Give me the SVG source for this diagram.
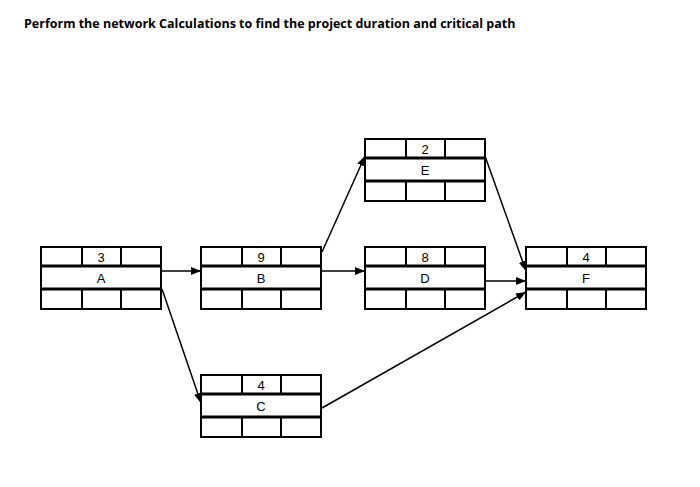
<svg xmlns="http://www.w3.org/2000/svg" width="700" height="487" viewBox="0 0 700 487">
<defs>
<marker id="ah" markerWidth="10" markerHeight="8" refX="10" refY="4" orient="auto" markerUnits="userSpaceOnUse"><path d="M0,0 L10,4 L0,8 z" fill="#000"/></marker>
<g id="box">
<rect x="0" y="0" width="120" height="62" fill="#fff" stroke="#000" stroke-width="2"/>
<line x1="0" y1="19" x2="120" y2="19" stroke="#000" stroke-width="3"/>
<line x1="0" y1="42" x2="120" y2="42" stroke="#000" stroke-width="3"/>
<line x1="41" y1="0" x2="41" y2="19" stroke="#000" stroke-width="2"/>
<line x1="80" y1="0" x2="80" y2="19" stroke="#000" stroke-width="2"/>
<line x1="41" y1="42" x2="41" y2="62" stroke="#000" stroke-width="2"/>
<line x1="80" y1="42" x2="80" y2="62" stroke="#000" stroke-width="2"/>
</g>
</defs>
<style>text{font-family:"Liberation Sans",Arial,sans-serif;font-size:13px;text-anchor:middle}.c{stroke:#000;stroke-width:1.5;fill:none;marker-end:url(#ah)}</style>
<rect width="700" height="487" fill="#fff"/>
<text x="24" y="28" style="text-anchor:start;font-family:'Open Sans','Noto Sans',sans-serif;font-weight:bold;font-size:12.5px">Perform the network Calculations to find the project duration and critical path</text>
<g id="A"><use href="#box" x="41" y="247"/><text x="101" y="262">3</text><text x="101" y="283">A</text></g>
<g id="B"><use href="#box" x="201" y="247"/><text x="261" y="262">9</text><text x="261" y="283">B</text></g>
<g id="C"><use href="#box" x="201" y="375"/><text x="261" y="390">4</text><text x="261" y="411">C</text></g>
<g id="D"><use href="#box" x="365" y="247"/><text x="425" y="262">8</text><text x="425" y="283">D</text></g>
<g id="E"><use href="#box" x="365" y="139"/><text x="425" y="154">2</text><text x="425" y="175">E</text></g>
<g id="F"><use href="#box" x="526" y="247"/><text x="586" y="262">4</text><text x="586" y="283">F</text></g>
<g id="connectors">
<line class="c" x1="161" y1="271" x2="201" y2="271"/>
<line class="c" x1="162" y1="289" x2="201" y2="403"/>
<line class="c" x1="322" y1="252" x2="365" y2="156"/>
<line class="c" x1="322" y1="271" x2="365" y2="271"/>
<line class="c" x1="485" y1="156" x2="526" y2="271"/>
<line class="c" x1="485" y1="281" x2="526" y2="281"/>
<line class="c" x1="322" y1="408" x2="526" y2="292"/>
</g>
</svg>
